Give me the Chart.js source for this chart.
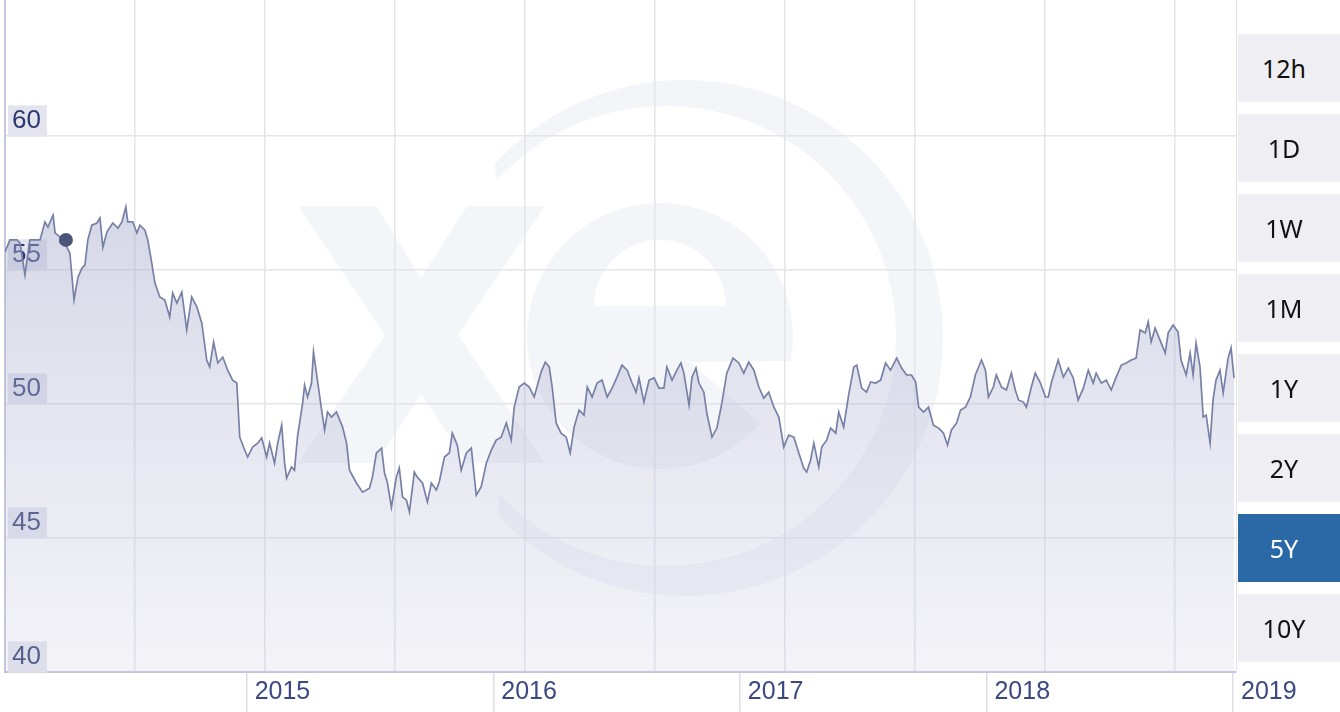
<!DOCTYPE html>
<html>
<head>
<meta charset="utf-8">
<script src="https://cdn.jsdelivr.net/npm/chart.js@4.4.1/dist/chart.umd.min.js"></script>
<style>
  html, body { margin: 0; padding: 0; background: #fff; }
  #wrap { position: relative; width: 1340px; height: 712px; overflow: hidden; }
  #rateChart { position: absolute; left: 0; top: 0; }
  .range {
    position: absolute; left: 1238px; width: 102px; height: 68px;
    background: #eeeef3; color: #111;
    font: 25px "Noto Sans", sans-serif;
    display: flex; align-items: center; justify-content: center;
    padding-right: 10px; box-sizing: border-box;
  }
  .range.on { background: #2a69a6; color: #fff; }
</style>
</head>
<body>
<div id="wrap">
  <canvas id="rateChart" width="1340" height="712"></canvas>
</div>
<script>
// decimal year of each reading
const dates = [
  2014.020, 2014.040, 2014.069, 2014.081, 2014.101, 2014.121, 2014.162, 2014.182, 2014.194, 2014.215,
  2014.223, 2014.243, 2014.271, 2014.283, 2014.300, 2014.316, 2014.332, 2014.344, 2014.356, 2014.372,
  2014.393, 2014.405, 2014.417, 2014.433, 2014.457, 2014.478, 2014.494, 2014.510, 2014.518, 2014.538,
  2014.555, 2014.567, 2014.587, 2014.599, 2014.615, 2014.628, 2014.648, 2014.668, 2014.688, 2014.700,
  2014.717, 2014.737, 2014.757, 2014.777, 2014.798, 2014.818, 2014.838, 2014.850, 2014.866, 2014.883,
  2014.903, 2014.923, 2014.943, 2014.960, 2014.972, 2014.992, 2015.004, 2015.024, 2015.045, 2015.061,
  2015.081, 2015.093, 2015.113, 2015.126, 2015.142, 2015.154, 2015.162, 2015.182, 2015.194, 2015.206,
  2015.227, 2015.235, 2015.247, 2015.263, 2015.271, 2015.287, 2015.304, 2015.316, 2015.328, 2015.344,
  2015.364, 2015.389, 2015.405, 2015.417, 2015.445, 2015.470, 2015.498, 2015.510, 2015.526, 2015.547,
  2015.559, 2015.571, 2015.587, 2015.607, 2015.619, 2015.632, 2015.648, 2015.660, 2015.680, 2015.692,
  2015.713, 2015.733, 2015.749, 2015.769, 2015.781, 2015.802, 2015.822, 2015.834, 2015.854, 2015.870,
  2015.891, 2015.911, 2015.931, 2015.951, 2015.972, 2015.992, 2016.012, 2016.032, 2016.053, 2016.073,
  2016.085, 2016.105, 2016.126, 2016.146, 2016.166, 2016.194, 2016.211, 2016.227, 2016.239, 2016.255,
  2016.275, 2016.296, 2016.312, 2016.328, 2016.348, 2016.368, 2016.381, 2016.401, 2016.421, 2016.441,
  2016.462, 2016.482, 2016.502, 2016.522, 2016.543, 2016.563, 2016.579, 2016.591, 2016.611, 2016.632,
  2016.652, 2016.672, 2016.692, 2016.704, 2016.725, 2016.745, 2016.761, 2016.773, 2016.794, 2016.806,
  2016.822, 2016.834, 2016.854, 2016.866, 2016.887, 2016.907, 2016.927, 2016.947, 2016.972, 2016.996,
  2017.016, 2017.036, 2017.057, 2017.077, 2017.097, 2017.117, 2017.138, 2017.158, 2017.178, 2017.198,
  2017.219, 2017.239, 2017.259, 2017.271, 2017.287, 2017.300, 2017.320, 2017.332, 2017.352, 2017.368,
  2017.389, 2017.401, 2017.421, 2017.441, 2017.462, 2017.474, 2017.494, 2017.514, 2017.530, 2017.551,
  2017.571, 2017.591, 2017.611, 2017.636, 2017.656, 2017.676, 2017.696, 2017.713, 2017.725, 2017.745,
  2017.765, 2017.785, 2017.806, 2017.826, 2017.842, 2017.858, 2017.879, 2017.895, 2017.915, 2017.935,
  2017.955, 2017.980, 2017.996, 2018.008, 2018.028, 2018.040, 2018.061, 2018.081, 2018.101, 2018.117,
  2018.130, 2018.150, 2018.162, 2018.182, 2018.198, 2018.219, 2018.239, 2018.251, 2018.263, 2018.291,
  2018.312, 2018.332, 2018.352, 2018.372, 2018.393, 2018.413, 2018.433, 2018.445, 2018.466, 2018.486,
  2018.506, 2018.526, 2018.547, 2018.567, 2018.587, 2018.607, 2018.623, 2018.644, 2018.656, 2018.668,
  2018.684, 2018.704, 2018.725, 2018.737, 2018.757, 2018.777, 2018.789, 2018.810, 2018.826, 2018.838,
  2018.850, 2018.866, 2018.879, 2018.891, 2018.907, 2018.919, 2018.931, 2018.947, 2018.960, 2018.980,
  2018.992, 2019.004
];

const rates = [
  55.67, 56.12, 56.12, 56.00, 54.81, 56.12, 56.12, 56.79, 56.60, 57.05,
  56.38, 56.23, 55.85, 55.63, 53.88, 54.73, 55.07, 55.18, 56.12, 56.67,
  56.75, 56.94, 55.85, 56.41, 56.75, 56.56, 56.79, 57.35, 56.79, 56.79,
  56.38, 56.67, 56.49, 56.12, 55.26, 54.51, 53.99, 53.88, 53.24, 54.14,
  53.76, 54.17, 52.76, 53.99, 53.62, 53.02, 51.64, 51.38, 52.31, 51.53,
  51.75, 51.26, 50.89, 50.78, 48.76, 48.28, 48.02, 48.39, 48.54, 48.73,
  48.02, 48.54, 47.79, 48.54, 49.21, 47.79, 47.23, 47.65, 47.53, 48.76,
  50.03, 50.70, 50.26, 50.78, 51.94, 50.89, 49.77, 49.03, 49.70, 49.51,
  49.70, 49.14, 48.54, 47.53, 47.05, 46.71, 46.86, 47.27, 48.17, 48.35,
  47.42, 47.05, 46.15, 47.27, 47.61, 46.53, 46.41, 45.97, 47.46, 47.27,
  47.05, 46.34, 47.05, 46.79, 47.09, 48.02, 48.17, 48.91, 48.47, 47.53,
  48.17, 48.35, 46.60, 46.90, 47.79, 48.28, 48.65, 48.76, 49.29, 48.65,
  49.88, 50.63, 50.78, 50.63, 50.26, 51.19, 51.56, 51.38, 50.63, 49.29,
  48.91, 48.76, 48.17, 49.14, 49.77, 49.58, 50.63, 50.26, 50.78, 50.89,
  50.26, 50.59, 51.00, 51.45, 51.26, 50.78, 50.44, 50.97, 50.07, 50.89,
  50.97, 50.59, 50.59, 51.38, 50.89, 51.26, 51.53, 51.15, 49.96, 51.00,
  51.34, 50.78, 50.44, 49.66, 48.76, 49.10, 50.03, 51.15, 51.71, 51.53,
  51.15, 51.56, 51.26, 50.63, 50.22, 50.44, 49.88, 49.51, 48.39, 48.84,
  48.76, 48.17, 47.61, 47.46, 47.91, 48.54, 47.65, 48.39, 48.65, 49.10,
  48.91, 49.70, 49.14, 50.33, 51.38, 51.45, 50.59, 50.44, 50.82, 50.78,
  50.89, 51.53, 51.26, 51.71, 51.34, 51.08, 51.08, 50.82, 49.88, 49.70,
  49.88, 49.21, 49.10, 48.91, 48.47, 49.03, 49.29, 49.77, 49.88, 50.26,
  51.08, 51.64, 51.26, 50.26, 50.63, 51.08, 50.63, 50.52, 51.15, 50.52,
  50.15, 50.07, 49.88, 50.63, 51.15, 50.78, 50.26, 50.26, 50.78, 51.64,
  51.00, 51.34, 50.97, 50.15, 50.59, 51.26, 50.78, 51.15, 50.78, 50.89,
  50.52, 51.00, 51.45, 51.53, 51.64, 51.71, 52.76, 52.65, 53.06, 52.31,
  52.83, 52.38, 51.90, 52.65, 52.94, 52.68, 51.64, 51.08, 51.90, 51.08,
  52.27, 51.38, 49.51, 49.58, 48.54, 50.15, 50.89, 51.26, 50.41, 51.71,
  52.09, 50.97
];

// hovered point
const markerDate = [2014.267];
const markerRate = [56.12];

const rateTicks = [40, 45, 50, 55, 60];
const yearTicks = [2015, 2016, 2017, 2018, 2019];
const ranges = ["12h", "1D", "1W", "1M", "1Y", "2Y", "5Y", "10Y"];
const activeRange = "5Y";

const X_MIN = 2014.02;
const X_MAX = 2019.012;
const Y_MIN = 40;
const Y_MAX = 65.07;
const GRID_STEP = 0.5272; // vertical grid spacing, in years

// range buttons on the right
const wrap = document.getElementById("wrap");
ranges.forEach((r, i) => {
    const b = document.createElement("div");
    b.className = "range" + (r === activeRange ? " on" : "");
    b.style.top = (34 + i * 80) + "px";
    b.textContent = r;
    wrap.appendChild(b);
});

// faint "xe" logo behind the data
const watermark = {
    id: "watermark",
    beforeDraw(chart) {
        const { ctx, chartArea: a } = chart;
        const ox = a.left - 5, oy = a.top;
        ctx.save();
        ctx.fillStyle = "rgba(212, 215, 232, 0.25)";
        // ring
        ctx.beginPath();
        ctx.arc(ox + 685, oy + 338, 258, -2.40, 2.38);
        ctx.arc(ox + 666, oy + 336, 230, 2.38, -2.40, true);
        ctx.closePath();
        ctx.fill();
        // x
        const xs = [[298, 206], [376, 206], [421, 278], [467, 206], [545, 206], [458, 335],
                    [545, 463], [467, 463], [421, 394], [376, 463], [298, 463], [385, 335]];
        ctx.beginPath();
        xs.forEach((p, i) => i ? ctx.lineTo(ox + p[0], oy + p[1]) : ctx.moveTo(ox + p[0], oy + p[1]));
        ctx.closePath();
        ctx.fill();
        // e
        const cx = ox + 660, cy = oy + 336;
        ctx.beginPath();
        ctx.arc(cx, cy, 133, 0.19, 0.72, true);
        ctx.lineTo(cx + 30, cy + 26);
        ctx.closePath();
        ctx.moveTo(cx + 66, cy - 30);
        ctx.arc(cx, cy - 30, 66, 0, Math.PI, true);
        ctx.closePath();
        ctx.fill("evenodd");
        ctx.restore();
    }
};

const labelFont = { family: "'Liberation Sans', Arial, sans-serif", size: 26 };
const noWidth = (axis) => {
    axis.width = 0;
    axis.paddingTop = 0;
    axis.paddingBottom = 0;
};

const context = document.getElementById("rateChart").getContext("2d");
const rateChart = new Chart(context, {
    type: "line",
    data: {
        datasets: [
            {
                type: "scatter",
                data: markerDate.map((d, i) => ({ x: d, y: markerRate[i] })),
                pointRadius: 7,
                pointBackgroundColor: "#4b5479",
                pointBorderWidth: 0,
                order: 0,
            },
            {
                data: dates.map((d, i) => ({ x: d, y: rates[i] })),
                borderColor: "#7880a6",
                borderWidth: 1.7,
                pointRadius: 0,
                tension: 0,
                fill: "start",
                backgroundColor: (c) => {
                    const area = c.chart.chartArea;
                    if (!area) return "rgba(180, 186, 212, 0.4)";
                    const g = c.chart.ctx.createLinearGradient(0, area.top, 0, area.bottom);
                    g.addColorStop(0, "rgba(145, 152, 192, 0.55)");
                    g.addColorStop(1, "rgba(205, 206, 225, 0.25)");
                    return g;
                },
                order: 1,
            },
        ],
    },
    options: {
        responsive: false,
        animation: false,
        events: [],
        layout: { autoPadding: false, padding: { left: 5, right: 104, top: 0, bottom: 0 } },
        plugins: {
            legend: { display: false },
            tooltip: { enabled: false },
        },
        scales: {
            x: {
                type: "linear",
                min: X_MIN,
                max: X_MAX,
                afterBuildTicks: (axis) => {
                    const t = [];
                    for (let v = axis.min; v <= axis.max + 1e-6; v += GRID_STEP) t.push({ value: v });
                    axis.ticks = t;
                },
                afterFit: (axis) => {
                    axis.height = 0;
                    axis.paddingLeft = 0;
                    axis.paddingRight = 0;
                },
                ticks: { display: false },
                grid: { color: "#e4e4e9", lineWidth: 1.5, drawTicks: false },
                border: { color: "#c4c7dc", width: 2 },
            },
            years: {
                type: "linear",
                position: "bottom",
                min: X_MIN,
                max: X_MAX,
                afterBuildTicks: (axis) => {
                    axis.ticks = yearTicks.map((v) => ({ value: v }));
                },
                afterFit: (axis) => {
                    axis.height = 40;
                    axis.paddingLeft = 0;
                    axis.paddingRight = 0;
                },
                grid: { drawOnChartArea: false, tickLength: 40, color: "#dedee6", lineWidth: 1.5 },
                border: { display: false },
                ticks: {
                    align: "start",
                    labelOffset: 8,
                    padding: -35,
                    autoSkip: false,
                    maxRotation: 0,
                    color: "#3b4882",
                    font: { family: labelFont.family, size: 25 },
                    callback: (v) => String(v),
                },
            },
            // grid lines and left border, under the data
            y: {
                type: "linear",
                min: Y_MIN,
                max: Y_MAX,
                afterBuildTicks: (axis) => {
                    axis.ticks = rateTicks.map((v) => ({ value: v }));
                },
                afterFit: noWidth,
                ticks: { display: false },
                grid: { color: "#e4e4e9", lineWidth: 1.5, drawTicks: false },
                border: { color: "#c4c7dc", width: 2 },
            },
            // tick labels, drawn above the data
            yLabels: {
                type: "linear",
                position: "left",
                z: 1,
                min: Y_MIN,
                max: Y_MAX,
                afterBuildTicks: (axis) => {
                    axis.ticks = rateTicks.map((v) => ({ value: v }));
                },
                afterFit: noWidth,
                grid: { display: false, drawTicks: false },
                border: { display: false },
                ticks: {
                    mirror: true,
                    padding: 7,
                    labelOffset: -15,
                    showLabelBackdrop: true,
                    backdropColor: "#e4e4ef",
                    backdropPadding: { left: 4, right: 6, top: 0, bottom: 0 },
                    color: "#2c3870",
                    font: labelFont,
                    callback: (v) => String(v),
                },
            },
            yEdge: {
                type: "linear",
                position: "right",
                min: Y_MIN,
                max: Y_MAX,
                afterFit: noWidth,
                ticks: { display: false },
                grid: { display: false, drawTicks: false },
                border: { color: "#e2e2e8", width: 1 },
            },
        },
    },
    plugins: [watermark],
});
</script>
</body>
</html>
